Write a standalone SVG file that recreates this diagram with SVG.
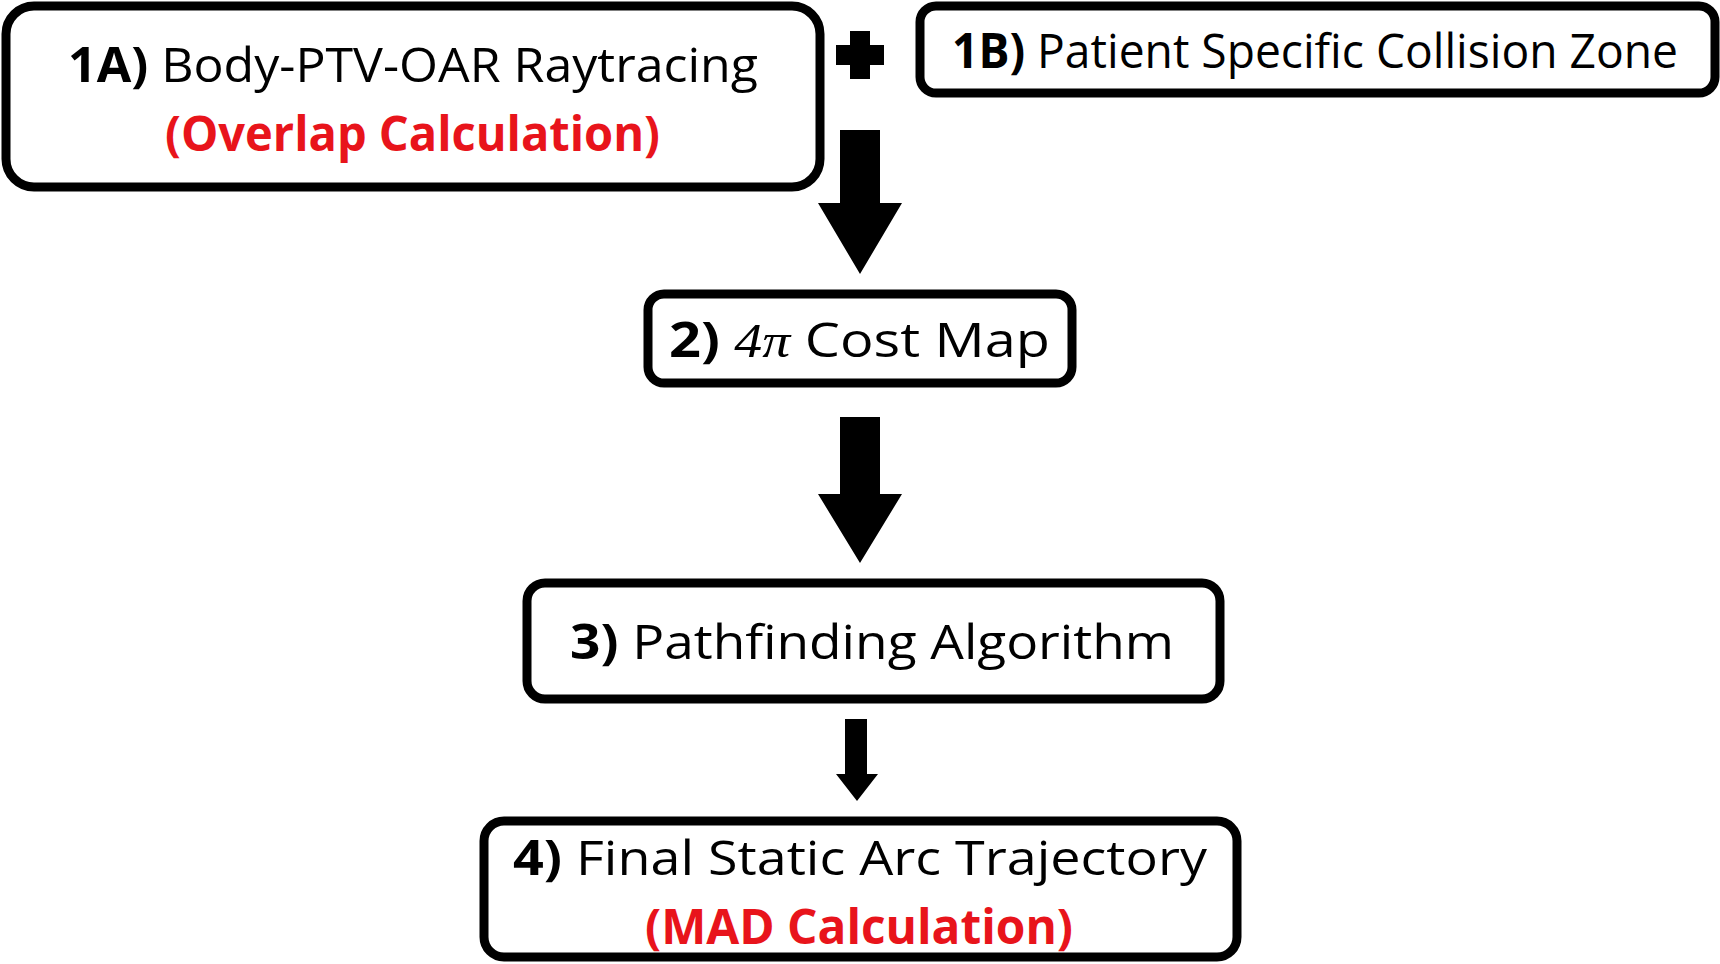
<svg xmlns="http://www.w3.org/2000/svg" width="1720" height="964" viewBox="0 0 1720 964">
<style>
.box{fill:#fff;stroke:#000;stroke-width:9}
text{font-family:"Open Sans","Liberation Sans",sans-serif;font-size:48px;fill:#000}
.b{font-weight:bold}
.red{fill:#e8141b;font-weight:bold}
</style>
<rect width="1720" height="964" fill="#fff"/>
<g id="n1a"><rect class="box" x="6" y="6" width="814" height="181" rx="28"/>
<text x="68" y="82" textLength="690" lengthAdjust="spacingAndGlyphs"><tspan class="b">1A)</tspan> Body-PTV-OAR Raytracing</text>
<text class="red" x="165" y="151" textLength="495" lengthAdjust="spacingAndGlyphs">(Overlap Calculation)</text></g>
<g id="plus"><path d="M850 31h20v14h14v20h-14v14h-20v-14h-14v-20h14z" fill="#000"/></g>
<g id="n1b"><rect class="box" x="920" y="6" width="795" height="87" rx="16"/>
<text x="952" y="68" textLength="726" lengthAdjust="spacingAndGlyphs"><tspan class="b">1B)</tspan> Patient Specific Collision Zone</text></g>
<g id="n2"><rect class="box" x="648" y="294" width="424" height="89" rx="16"/>
<text x="669" y="357" textLength="381" lengthAdjust="spacingAndGlyphs"><tspan class="b">2)</tspan> <tspan font-family="Liberation Serif,serif" font-style="italic">4π</tspan> Cost Map</text></g>
<g id="n3"><rect class="box" x="527" y="583" width="693" height="116" rx="18"/>
<text x="570" y="659" textLength="604" lengthAdjust="spacingAndGlyphs"><tspan class="b">3)</tspan> Pathfinding Algorithm</text></g>
<g id="n4"><rect class="box" x="484" y="821" width="753" height="136" rx="20"/>
<text x="513" y="875" textLength="694" lengthAdjust="spacingAndGlyphs"><tspan class="b">4)</tspan> Final Static Arc Trajectory</text>
<text class="red" x="645" y="944" textLength="428" lengthAdjust="spacingAndGlyphs">(MAD Calculation)</text></g>
<g id="connectors" fill="#000">
<path d="M840 130h40v73h22l-42 71l-42-71h22z"/>
<path d="M840 417h40v77h22l-42 69l-42-69h22z"/>
<path d="M845 719h22v55h11l-21 27l-21-27h9z"/>
</g>
</svg>
